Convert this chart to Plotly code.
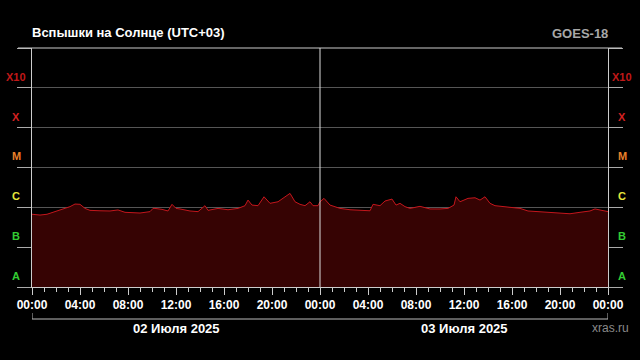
import math
import plotly.graph_objects as go

times = [
    "2025-07-02 00:00", "2025-07-02 00:40", "2025-07-02 01:15", "2025-07-02 01:55", "2025-07-02 02:35",
    "2025-07-02 03:10", "2025-07-02 03:35", "2025-07-02 04:00", "2025-07-02 04:25", "2025-07-02 04:50",
    "2025-07-02 05:40", "2025-07-02 06:30", "2025-07-02 07:10", "2025-07-02 07:45", "2025-07-02 09:00",
    "2025-07-02 09:50", "2025-07-02 10:05", "2025-07-02 10:15", "2025-07-02 10:50", "2025-07-02 11:20",
    "2025-07-02 11:40", "2025-07-02 12:00", "2025-07-02 12:20", "2025-07-02 12:45", "2025-07-02 13:10",
    "2025-07-02 13:50", "2025-07-02 14:25", "2025-07-02 14:40", "2025-07-02 15:30", "2025-07-02 16:20",
    "2025-07-02 17:10", "2025-07-02 17:45", "2025-07-02 18:00", "2025-07-02 18:20", "2025-07-02 18:50",
    "2025-07-02 19:20", "2025-07-02 19:50", "2025-07-02 20:30", "2025-07-02 20:55", "2025-07-02 21:30",
    "2025-07-02 21:55", "2025-07-02 22:20", "2025-07-02 22:45", "2025-07-02 23:10", "2025-07-02 23:25",
    "2025-07-02 23:50", "2025-07-03 00:00", "2025-07-03 00:20", "2025-07-03 00:50", "2025-07-03 01:40",
    "2025-07-03 02:30", "2025-07-03 03:20", "2025-07-03 04:10", "2025-07-03 04:25", "2025-07-03 05:00",
    "2025-07-03 05:25", "2025-07-03 06:00", "2025-07-03 06:20", "2025-07-03 06:40", "2025-07-03 07:05",
    "2025-07-03 07:30", "2025-07-03 08:20", "2025-07-03 09:10", "2025-07-03 10:00", "2025-07-03 10:40",
    "2025-07-03 11:10", "2025-07-03 11:20", "2025-07-03 11:40", "2025-07-03 12:05", "2025-07-03 12:20",
    "2025-07-03 12:55", "2025-07-03 13:20", "2025-07-03 13:45", "2025-07-03 14:10", "2025-07-03 14:35",
    "2025-07-03 15:25", "2025-07-03 16:15", "2025-07-03 16:40", "2025-07-03 17:20", "2025-07-03 18:20",
    "2025-07-03 19:35", "2025-07-03 20:50", "2025-07-03 21:40", "2025-07-03 22:30", "2025-07-03 22:55",
    "2025-07-03 23:20", "2025-07-04 00:00",
]
flux = [
    6.7e-7, 6.4e-7, 6.7e-7, 7.8e-7, 9.4e-7,
    1.04e-6, 1.21e-6, 1.19e-6, 9.4e-7, 8.4e-7,
    8.2e-7, 8.1e-7, 8.6e-7, 7.5e-7, 7.2e-7,
    7.8e-7, 9.4e-7, 9.4e-7, 8.9e-7, 8.1e-7,
    1.19e-6, 9.4e-7, 9.1e-7, 8.4e-7, 8.1e-7,
    7.8e-7, 1.10e-6, 8.4e-7, 9.4e-7, 8.7e-7,
    9.4e-7, 1.10e-6, 1.52e-6, 1.14e-6, 1.10e-6,
    1.84e-6, 1.26e-6, 1.38e-6, 1.68e-6, 2.24e-6,
    1.38e-6, 1.19e-6, 1.10e-6, 1.38e-6, 1.10e-6,
    1.10e-6, 1.38e-6, 1.68e-6, 1.14e-6, 9.4e-7,
    8.7e-7, 8.4e-7, 8.2e-7, 1.19e-6, 1.10e-6,
    1.44e-6, 1.61e-6, 1.14e-6, 1.26e-6, 1.04e-6,
    9.4e-7, 1.06e-6, 9.1e-7, 9.1e-7, 9.4e-7,
    1.14e-6, 1.84e-6, 1.38e-6, 1.52e-6, 1.68e-6,
    1.74e-6, 1.52e-6, 1.84e-6, 1.26e-6, 1.10e-6,
    1.02e-6, 9.4e-7, 9.4e-7, 8.1e-7, 7.8e-7,
    7.2e-7, 6.9e-7, 7.5e-7, 8.1e-7, 9.1e-7,
    8.6e-7, 7.8e-7,
]

class_labels = ["A", "B", "C", "M", "X", "X10"]
class_thresholds = [1e-8, 1e-7, 1e-6, 1e-5, 1e-4, 1e-3]
class_colors = ["#33cc33", "#33cc33", "#e6e63c", "#e8812a", "#d42020", "#c01818"]
day_labels = ["02 Июля 2025", "03 Июля 2025"]
day_centers = ["2025-07-02 12:00", "2025-07-03 12:00"]
x_start, x_mid, x_end = "2025-07-02 00:00", "2025-07-03 00:00", "2025-07-04 00:00"

FONT = "Liberation Sans, Arial, sans-serif"
PW, PH = 576, 239

fig = go.Figure()
fig.add_trace(go.Scatter(
    x=times, y=flux, mode="lines",
    line=dict(color="#c4161c", width=1),
    fill="tozeroy", fillcolor="#360303",
    hoverinfo="skip", showlegend=False,
))

fig.update_layout(
    width=640, height=360,
    margin=dict(l=32, r=32, t=48, b=73),
    paper_bgcolor="black", plot_bgcolor="black",
    font=dict(family=FONT, color="white"),
    showlegend=False,
)

fig.update_xaxes(
    type="date", range=[x_start, x_end],
    tickformat="%H:%M", dtick=4 * 3600 * 1000, tick0=x_start,
    showgrid=False, zeroline=False,
    showline=True, linecolor="#cccccc", linewidth=1,
    ticks="outside", ticklen=7, tickcolor="#cccccc", tickwidth=1,
    minor=dict(dtick=3600 * 1000, ticks="outside", ticklen=4, tickcolor="#cccccc"),
    tickfont=dict(family=FONT, size=12, color="white", weight="bold"),
)
fig.update_yaxes(
    type="log", range=[-8, -2], dtick=1,
    showticklabels=False, zeroline=False,
    showgrid=True, gridcolor="#555555", gridwidth=1,
    showline=True, linecolor="#cccccc", linewidth=1, mirror="ticks",
    ticks="outside", ticklen=14, tickcolor="#aaaaaa", tickwidth=1,
)

# top border extending beyond plot
fig.add_shape(type="line", xref="paper", yref="paper",
              x0=-14 / PW, x1=1 + 14 / PW, y0=1, y1=1,
              line=dict(color="#cccccc", width=1))
# day divider
fig.add_shape(type="line", xref="x", yref="paper",
              x0=x_mid, x1=x_mid, y0=0, y1=1,
              line=dict(color="#dddddd", width=1))
# date bracket
fig.add_shape(type="line", xref="x", yref="paper",
              x0=x_start, x1=x_end, y0=-32 / PH, y1=-32 / PH,
              line=dict(color="#bbbbbb", width=1))
for xb in [x_start, x_end]:
    fig.add_shape(type="line", xref="x", yref="paper",
                  x0=xb, x1=xb, y0=-32 / PH, y1=-26 / PH,
                  line=dict(color="#bbbbbb", width=1))

# class labels on both sides
for lab, thr, col in zip(class_labels, class_thresholds, class_colors):
    for xp in [-16 / PW, 1 + 14 / PW]:
        fig.add_annotation(
            x=xp, xref="paper", y=math.log10(thr) + 0.28, yref="y",
            text=lab, showarrow=False,
            font=dict(family=FONT, size=11, color=col, weight="bold"),
            xanchor="center", yanchor="middle",
        )

for lab, xc in zip(day_labels, day_centers):
    fig.add_annotation(x=xc, xref="x", y=-41 / PH, yref="paper",
                       text=lab, showarrow=False,
                       font=dict(family=FONT, size=13, color="white", weight="bold"),
                       xanchor="center", yanchor="middle")

fig.add_annotation(x=0, xref="paper", y=1 + 16 / PH, yref="paper",
                   text="Вспышки на Солнце (UTC+03)", showarrow=False,
                   font=dict(family=FONT, size=13, color="white", weight="bold"),
                   xanchor="left", yanchor="middle", xshift=-2)
fig.add_annotation(x=1, xref="paper", y=1 + 14 / PH, yref="paper",
                   text="GOES-18", showarrow=False,
                   font=dict(family=FONT, size=13, color="#a8a8a8", weight="bold"),
                   xanchor="right", yanchor="middle", xshift=2)
fig.add_annotation(x=1 + 2 / PW, xref="paper", y=-41 / PH, yref="paper",
                   text="xras.ru", showarrow=False,
                   font=dict(family=FONT, size=12, color="#8a8a8a"),
                   xanchor="center", yanchor="middle")

fig.write_html("out.html")
